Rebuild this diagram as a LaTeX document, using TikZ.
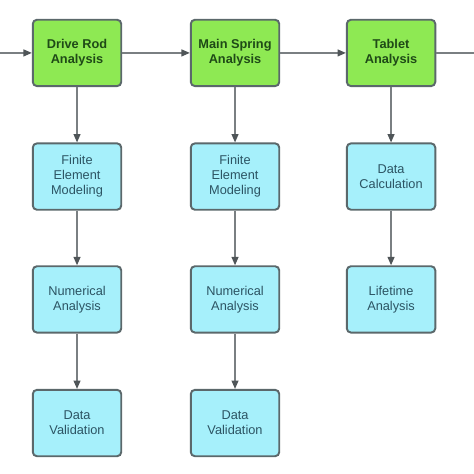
\documentclass[tikz,border=0pt]{standalone}
\usepackage{fontspec}
\setmainfont{Liberation Sans}
\usetikzlibrary{positioning,arrows.meta}
\definecolor{stepgreen}{HTML}{8EE953}
\definecolor{stepcyan}{HTML}{A6F0FB}
\definecolor{edgegray}{HTML}{5B686B}
\definecolor{linegray}{HTML}{7A7F82}
\definecolor{headgray}{HTML}{4F5558}
\definecolor{greentext}{HTML}{1F4A17}
\definecolor{cyantext}{HTML}{2C5463}
\tikzset{
  mainbox/.style={draw=edgegray,line width=1.4pt,rounded corners=3pt,
    fill=stepgreen,minimum width=2.24cm,minimum height=1.68cm,
    align=center,font=\fontsize{9.2}{10.8}\selectfont\bfseries,text=greentext},
  subbox/.style={draw=edgegray,line width=1.4pt,rounded corners=3pt,
    fill=stepcyan,minimum width=2.24cm,minimum height=1.68cm,
    align=center,font=\fontsize{9.2}{10.8}\selectfont,text=cyantext},
  flow/.style={draw=linegray,line width=0.9pt,
    -{Triangle[length=6pt,width=5pt,color=headgray]}},
}
\begin{document}
\begin{tikzpicture}
\useasboundingbox (0,0) rectangle (12,12);
% Main analysis steps
\node[mainbox] (rod) at (1.95,10.66) {Drive Rod\\Analysis};
\node[mainbox] (spring) at (5.95,10.66) {Main Spring\\Analysis};
\node[mainbox] (tablet) at (9.90,10.66) {Tablet\\Analysis};
% Drive rod column
\node[subbox] (rodfem) at (1.95,7.53) {Finite\\Element\\Modeling};
\node[subbox] (rodnum) at (1.95,4.42) {Numerical\\Analysis};
\node[subbox] (rodval) at (1.95,1.29) {Data\\Validation};
% Main spring column
\node[subbox] (springfem) at (5.95,7.53) {Finite\\Element\\Modeling};
\node[subbox] (springnum) at (5.95,4.42) {Numerical\\Analysis};
\node[subbox] (springval) at (5.95,1.29) {Data\\Validation};
% Tablet column
\node[subbox] (tabcalc) at (9.90,7.53) {Data\\Calculation};
\node[subbox] (tablife) at (9.90,4.42) {Lifetime\\Analysis};
% Free ends of the main line
\coordinate (start) at (0,10.66);
\coordinate (finish) at (12,10.66);
% Main line
\draw[flow] (start) -- (rod);
\draw[flow] (rod) -- (spring);
\draw[flow] (spring) -- (tablet);
\draw[draw=linegray,line width=0.9pt] (tablet) -- (finish);
% Columns
\draw[flow] (rod) -- (rodfem);
\draw[flow] (rodfem) -- (rodnum);
\draw[flow] (rodnum) -- (rodval);
\draw[flow] (spring) -- (springfem);
\draw[flow] (springfem) -- (springnum);
\draw[flow] (springnum) -- (springval);
\draw[flow] (tablet) -- (tabcalc);
\draw[flow] (tabcalc) -- (tablife);
\end{tikzpicture}
\end{document}
